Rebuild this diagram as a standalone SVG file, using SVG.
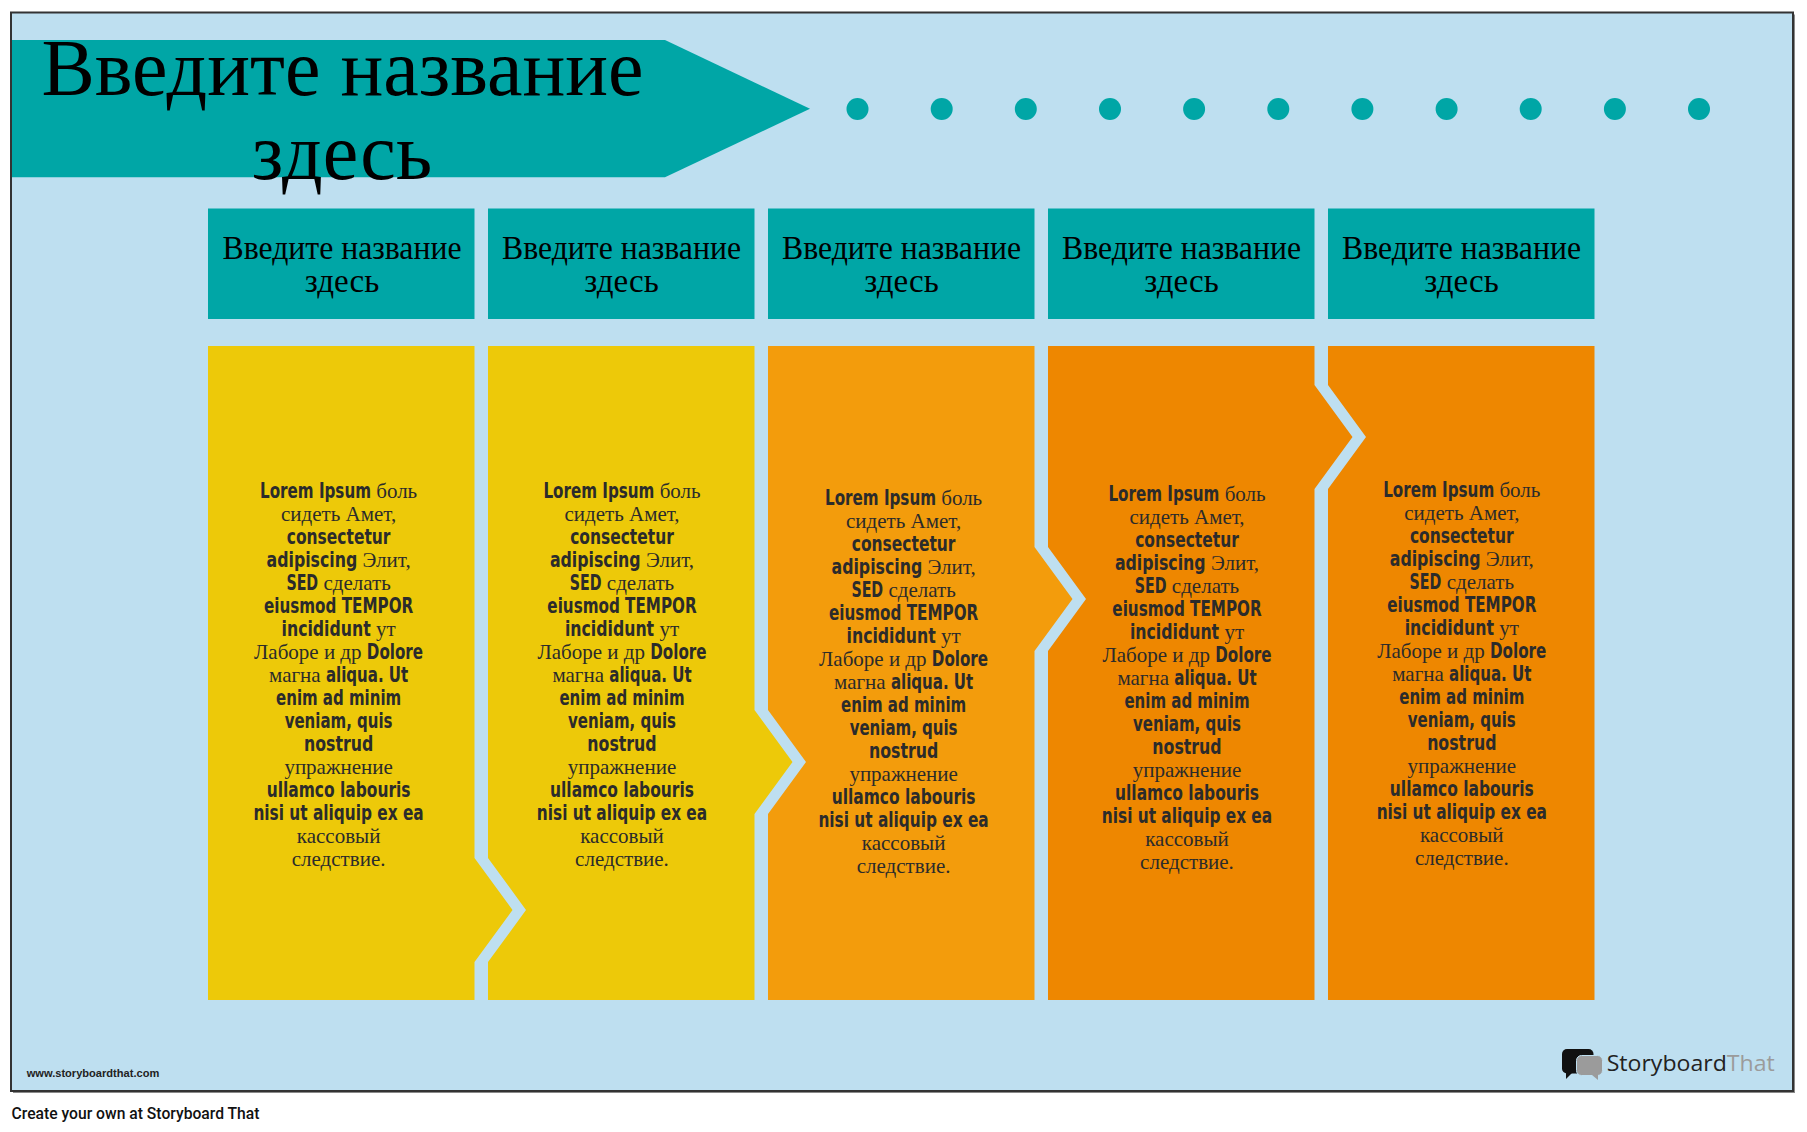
<svg xmlns="http://www.w3.org/2000/svg" width="1807" height="1132" viewBox="0 0 1807 1132">
<style>
.teal{fill:#00A6A6}
.title{font-family:"Liberation Serif","Times New Roman",serif;fill:#000;text-anchor:middle}
.hd{font-family:"Liberation Serif","Times New Roman",serif;font-size:33px;fill:#000;text-anchor:middle}
.b{font-family:"Liberation Serif","Times New Roman",serif;font-size:21px;fill:#2b2b2b;text-anchor:middle}
.s{font-family:"DejaVu Sans Condensed","Liberation Sans",sans-serif;font-weight:bold}
.dot{fill:#00A6A6}
</style>
<rect x="0" y="0" width="1807" height="1132" fill="#ffffff"/>
<rect x="13" y="14.5" width="1782" height="1078.5" fill="#8a8a8a"/>
<rect x="11" y="12.5" width="1782" height="1078.5" fill="#BEDFF0" stroke="#333" stroke-width="2"/>

<g id="banner">
<polygon class="teal" points="12,40 665,40 810,108.7 665,177.3 12,177.3"/>
<text class="title" font-size="80" x="342.5" y="95" textLength="602" lengthAdjust="spacingAndGlyphs">Введите название</text>
<text class="title" font-size="80" x="342" y="179">здесь</text>
</g>

<g id="dots">
<circle class="dot" cx="857.5" cy="109" r="11"/>
<circle class="dot" cx="941.7" cy="109" r="11"/>
<circle class="dot" cx="1025.8" cy="109" r="11"/>
<circle class="dot" cx="1110" cy="109" r="11"/>
<circle class="dot" cx="1194.1" cy="109" r="11"/>
<circle class="dot" cx="1278.3" cy="109" r="11"/>
<circle class="dot" cx="1362.4" cy="109" r="11"/>
<circle class="dot" cx="1446.6" cy="109" r="11"/>
<circle class="dot" cx="1530.7" cy="109" r="11"/>
<circle class="dot" cx="1614.9" cy="109" r="11"/>
<circle class="dot" cx="1699" cy="109" r="11"/>
</g>

<g id="header1"><rect class="teal" x="208" y="208.5" width="266.5" height="110.5"/><text class="hd" x="342" y="258.5" textLength="239" lengthAdjust="spacingAndGlyphs">Введите название</text><text class="hd" x="342" y="292">здесь</text></g>
<g id="header2"><rect class="teal" x="488" y="208.5" width="266.5" height="110.5"/><text class="hd" x="621.5" y="258.5" textLength="239" lengthAdjust="spacingAndGlyphs">Введите название</text><text class="hd" x="621.5" y="292">здесь</text></g>
<g id="header3"><rect class="teal" x="768" y="208.5" width="266.5" height="110.5"/><text class="hd" x="901.5" y="258.5" textLength="239" lengthAdjust="spacingAndGlyphs">Введите название</text><text class="hd" x="901.5" y="292">здесь</text></g>
<g id="header4"><rect class="teal" x="1048" y="208.5" width="266.5" height="110.5"/><text class="hd" x="1181.5" y="258.5" textLength="239" lengthAdjust="spacingAndGlyphs">Введите название</text><text class="hd" x="1181.5" y="292">здесь</text></g>
<g id="header5"><rect class="teal" x="1328" y="208.5" width="266.5" height="110.5"/><text class="hd" x="1461.5" y="258.5" textLength="239" lengthAdjust="spacingAndGlyphs">Введите название</text><text class="hd" x="1461.5" y="292">здесь</text></g>

<g id="connectors"></g>

<g id="box1">
<path fill="#EDC909" d="M208,346 H474.5 V858 L512.5,910 L474.5,962 V1000 H208 Z"/>
<text class="b" x="338.6" y="497.5"><tspan class="s" textLength="111" lengthAdjust="spacingAndGlyphs">Lorem Ipsum</tspan> боль</text>
<text class="b" x="338.6" y="520.5">сидеть Амет,</text>
<text class="b" x="338.6" y="543.5"><tspan class="s" textLength="103.7" lengthAdjust="spacingAndGlyphs">consectetur</tspan></text>
<text class="b" x="338.6" y="566.5"><tspan class="s" textLength="90.7" lengthAdjust="spacingAndGlyphs">adipiscing</tspan> Элит,</text>
<text class="b" x="338.6" y="589.5"><tspan class="s" textLength="31.8" lengthAdjust="spacingAndGlyphs">SED</tspan> сделать</text>
<text class="b" x="338.6" y="612.5"><tspan class="s" textLength="149.3" lengthAdjust="spacingAndGlyphs">eiusmod TEMPOR</tspan></text>
<text class="b" x="338.6" y="635.5"><tspan class="s" textLength="89.2" lengthAdjust="spacingAndGlyphs">incididunt</tspan> ут</text>
<text class="b" x="338.6" y="658.5">Лаборе и др <tspan class="s" textLength="56.3" lengthAdjust="spacingAndGlyphs">Dolore</tspan></text>
<text class="b" x="338.6" y="681.5">магна <tspan class="s" textLength="82.3" lengthAdjust="spacingAndGlyphs">aliqua. Ut</tspan></text>
<text class="b" x="338.6" y="704.5"><tspan class="s" textLength="125.1" lengthAdjust="spacingAndGlyphs">enim ad minim</tspan></text>
<text class="b" x="338.6" y="727.5"><tspan class="s" textLength="107.9" lengthAdjust="spacingAndGlyphs">veniam, quis</tspan></text>
<text class="b" x="338.6" y="750.5"><tspan class="s" textLength="69.3" lengthAdjust="spacingAndGlyphs">nostrud</tspan></text>
<text class="b" x="338.6" y="773.5">упражнение</text>
<text class="b" x="338.6" y="796.5"><tspan class="s" textLength="143.9" lengthAdjust="spacingAndGlyphs">ullamco labouris</tspan></text>
<text class="b" x="338.6" y="819.5"><tspan class="s" textLength="170.3" lengthAdjust="spacingAndGlyphs">nisi ut aliquip ex ea</tspan></text>
<text class="b" x="338.6" y="842.5">кассовый</text>
<text class="b" x="338.6" y="865.5">следствие.</text>
</g>

<g id="box2">
<path fill="#EDC909" d="M488,346 H754.5 V710 L792.5,762 L754.5,814 V1000 H488 V962 L526,910 L488,858 Z"/>
<text class="b" x="622" y="497.5"><tspan class="s" textLength="111" lengthAdjust="spacingAndGlyphs">Lorem Ipsum</tspan> боль</text>
<text class="b" x="622" y="520.5">сидеть Амет,</text>
<text class="b" x="622" y="543.5"><tspan class="s" textLength="103.7" lengthAdjust="spacingAndGlyphs">consectetur</tspan></text>
<text class="b" x="622" y="566.5"><tspan class="s" textLength="90.7" lengthAdjust="spacingAndGlyphs">adipiscing</tspan> Элит,</text>
<text class="b" x="622" y="589.5"><tspan class="s" textLength="31.8" lengthAdjust="spacingAndGlyphs">SED</tspan> сделать</text>
<text class="b" x="622" y="612.5"><tspan class="s" textLength="149.3" lengthAdjust="spacingAndGlyphs">eiusmod TEMPOR</tspan></text>
<text class="b" x="622" y="635.5"><tspan class="s" textLength="89.2" lengthAdjust="spacingAndGlyphs">incididunt</tspan> ут</text>
<text class="b" x="622" y="658.5">Лаборе и др <tspan class="s" textLength="56.3" lengthAdjust="spacingAndGlyphs">Dolore</tspan></text>
<text class="b" x="622" y="681.5">магна <tspan class="s" textLength="82.3" lengthAdjust="spacingAndGlyphs">aliqua. Ut</tspan></text>
<text class="b" x="622" y="704.5"><tspan class="s" textLength="125.1" lengthAdjust="spacingAndGlyphs">enim ad minim</tspan></text>
<text class="b" x="622" y="727.5"><tspan class="s" textLength="107.9" lengthAdjust="spacingAndGlyphs">veniam, quis</tspan></text>
<text class="b" x="622" y="750.5"><tspan class="s" textLength="69.3" lengthAdjust="spacingAndGlyphs">nostrud</tspan></text>
<text class="b" x="622" y="773.5">упражнение</text>
<text class="b" x="622" y="796.5"><tspan class="s" textLength="143.9" lengthAdjust="spacingAndGlyphs">ullamco labouris</tspan></text>
<text class="b" x="622" y="819.5"><tspan class="s" textLength="170.3" lengthAdjust="spacingAndGlyphs">nisi ut aliquip ex ea</tspan></text>
<text class="b" x="622" y="842.5">кассовый</text>
<text class="b" x="622" y="865.5">следствие.</text>
</g>

<g id="box3">
<path fill="#F39C0C" d="M768,346 H1034.5 V547 L1072.5,599 L1034.5,651 V1000 H768 V814 L806,762 L768,710 Z"/>
<text class="b" x="903.6" y="504.5"><tspan class="s" textLength="111" lengthAdjust="spacingAndGlyphs">Lorem Ipsum</tspan> боль</text>
<text class="b" x="903.6" y="527.5">сидеть Амет,</text>
<text class="b" x="903.6" y="550.5"><tspan class="s" textLength="103.7" lengthAdjust="spacingAndGlyphs">consectetur</tspan></text>
<text class="b" x="903.6" y="573.5"><tspan class="s" textLength="90.7" lengthAdjust="spacingAndGlyphs">adipiscing</tspan> Элит,</text>
<text class="b" x="903.6" y="596.5"><tspan class="s" textLength="31.8" lengthAdjust="spacingAndGlyphs">SED</tspan> сделать</text>
<text class="b" x="903.6" y="619.5"><tspan class="s" textLength="149.3" lengthAdjust="spacingAndGlyphs">eiusmod TEMPOR</tspan></text>
<text class="b" x="903.6" y="642.5"><tspan class="s" textLength="89.2" lengthAdjust="spacingAndGlyphs">incididunt</tspan> ут</text>
<text class="b" x="903.6" y="665.5">Лаборе и др <tspan class="s" textLength="56.3" lengthAdjust="spacingAndGlyphs">Dolore</tspan></text>
<text class="b" x="903.6" y="688.5">магна <tspan class="s" textLength="82.3" lengthAdjust="spacingAndGlyphs">aliqua. Ut</tspan></text>
<text class="b" x="903.6" y="711.5"><tspan class="s" textLength="125.1" lengthAdjust="spacingAndGlyphs">enim ad minim</tspan></text>
<text class="b" x="903.6" y="734.5"><tspan class="s" textLength="107.9" lengthAdjust="spacingAndGlyphs">veniam, quis</tspan></text>
<text class="b" x="903.6" y="757.5"><tspan class="s" textLength="69.3" lengthAdjust="spacingAndGlyphs">nostrud</tspan></text>
<text class="b" x="903.6" y="780.5">упражнение</text>
<text class="b" x="903.6" y="803.5"><tspan class="s" textLength="143.9" lengthAdjust="spacingAndGlyphs">ullamco labouris</tspan></text>
<text class="b" x="903.6" y="826.5"><tspan class="s" textLength="170.3" lengthAdjust="spacingAndGlyphs">nisi ut aliquip ex ea</tspan></text>
<text class="b" x="903.6" y="849.5">кассовый</text>
<text class="b" x="903.6" y="872.5">следствие.</text>
</g>

<g id="box4">
<path fill="#EE8700" d="M1048,346 H1314.5 V385 L1352.5,437 L1314.5,489 V1000 H1048 V651 L1086,599 L1048,547 Z"/>
<text class="b" x="1187" y="500.5"><tspan class="s" textLength="111" lengthAdjust="spacingAndGlyphs">Lorem Ipsum</tspan> боль</text>
<text class="b" x="1187" y="523.5">сидеть Амет,</text>
<text class="b" x="1187" y="546.5"><tspan class="s" textLength="103.7" lengthAdjust="spacingAndGlyphs">consectetur</tspan></text>
<text class="b" x="1187" y="569.5"><tspan class="s" textLength="90.7" lengthAdjust="spacingAndGlyphs">adipiscing</tspan> Элит,</text>
<text class="b" x="1187" y="592.5"><tspan class="s" textLength="31.8" lengthAdjust="spacingAndGlyphs">SED</tspan> сделать</text>
<text class="b" x="1187" y="615.5"><tspan class="s" textLength="149.3" lengthAdjust="spacingAndGlyphs">eiusmod TEMPOR</tspan></text>
<text class="b" x="1187" y="638.5"><tspan class="s" textLength="89.2" lengthAdjust="spacingAndGlyphs">incididunt</tspan> ут</text>
<text class="b" x="1187" y="661.5">Лаборе и др <tspan class="s" textLength="56.3" lengthAdjust="spacingAndGlyphs">Dolore</tspan></text>
<text class="b" x="1187" y="684.5">магна <tspan class="s" textLength="82.3" lengthAdjust="spacingAndGlyphs">aliqua. Ut</tspan></text>
<text class="b" x="1187" y="707.5"><tspan class="s" textLength="125.1" lengthAdjust="spacingAndGlyphs">enim ad minim</tspan></text>
<text class="b" x="1187" y="730.5"><tspan class="s" textLength="107.9" lengthAdjust="spacingAndGlyphs">veniam, quis</tspan></text>
<text class="b" x="1187" y="753.5"><tspan class="s" textLength="69.3" lengthAdjust="spacingAndGlyphs">nostrud</tspan></text>
<text class="b" x="1187" y="776.5">упражнение</text>
<text class="b" x="1187" y="799.5"><tspan class="s" textLength="143.9" lengthAdjust="spacingAndGlyphs">ullamco labouris</tspan></text>
<text class="b" x="1187" y="822.5"><tspan class="s" textLength="170.3" lengthAdjust="spacingAndGlyphs">nisi ut aliquip ex ea</tspan></text>
<text class="b" x="1187" y="845.5">кассовый</text>
<text class="b" x="1187" y="868.5">следствие.</text>
</g>

<g id="box5">
<path fill="#EE8700" d="M1328,346 H1594.5 V1000 H1328 V489 L1366,437 L1328,385 Z"/>
<text class="b" x="1461.8" y="497"><tspan class="s" textLength="111" lengthAdjust="spacingAndGlyphs">Lorem Ipsum</tspan> боль</text>
<text class="b" x="1461.8" y="520">сидеть Амет,</text>
<text class="b" x="1461.8" y="543"><tspan class="s" textLength="103.7" lengthAdjust="spacingAndGlyphs">consectetur</tspan></text>
<text class="b" x="1461.8" y="566"><tspan class="s" textLength="90.7" lengthAdjust="spacingAndGlyphs">adipiscing</tspan> Элит,</text>
<text class="b" x="1461.8" y="589"><tspan class="s" textLength="31.8" lengthAdjust="spacingAndGlyphs">SED</tspan> сделать</text>
<text class="b" x="1461.8" y="612"><tspan class="s" textLength="149.3" lengthAdjust="spacingAndGlyphs">eiusmod TEMPOR</tspan></text>
<text class="b" x="1461.8" y="635"><tspan class="s" textLength="89.2" lengthAdjust="spacingAndGlyphs">incididunt</tspan> ут</text>
<text class="b" x="1461.8" y="658">Лаборе и др <tspan class="s" textLength="56.3" lengthAdjust="spacingAndGlyphs">Dolore</tspan></text>
<text class="b" x="1461.8" y="681">магна <tspan class="s" textLength="82.3" lengthAdjust="spacingAndGlyphs">aliqua. Ut</tspan></text>
<text class="b" x="1461.8" y="704"><tspan class="s" textLength="125.1" lengthAdjust="spacingAndGlyphs">enim ad minim</tspan></text>
<text class="b" x="1461.8" y="727"><tspan class="s" textLength="107.9" lengthAdjust="spacingAndGlyphs">veniam, quis</tspan></text>
<text class="b" x="1461.8" y="750"><tspan class="s" textLength="69.3" lengthAdjust="spacingAndGlyphs">nostrud</tspan></text>
<text class="b" x="1461.8" y="773">упражнение</text>
<text class="b" x="1461.8" y="796"><tspan class="s" textLength="143.9" lengthAdjust="spacingAndGlyphs">ullamco labouris</tspan></text>
<text class="b" x="1461.8" y="819"><tspan class="s" textLength="170.3" lengthAdjust="spacingAndGlyphs">nisi ut aliquip ex ea</tspan></text>
<text class="b" x="1461.8" y="842">кассовый</text>
<text class="b" x="1461.8" y="865">следствие.</text>
</g>

<g id="footer">
<text x="26.7" y="1076.5" font-family="Liberation Sans, Arial, sans-serif" font-weight="bold" font-size="11" fill="#222" textLength="132.6" lengthAdjust="spacingAndGlyphs">www.storyboardthat.com</text>
<text x="11.5" y="1118.5" font-family="Roboto, Liberation Sans, Arial, sans-serif" font-weight="500" font-size="16" fill="#111" textLength="248" lengthAdjust="spacingAndGlyphs">Create your own at Storyboard That</text>
</g>

<g id="logo">
<rect x="1562" y="1049" width="31.5" height="24.5" rx="5" fill="#111"/>
<polygon points="1566,1072 1566,1079 1573,1072" fill="#111"/>
<rect x="1576.5" y="1055.5" width="26" height="20" rx="5" fill="#9b9b9b" stroke="#BEDFF0" stroke-width="1"/>
<polygon points="1592,1075 1598,1080 1598,1075" fill="#9b9b9b"/>
<text x="1606.7" y="1071" font-family="Open Sans, Liberation Sans, sans-serif" font-size="21" textLength="168" lengthAdjust="spacingAndGlyphs"><tspan fill="#222">Storyboard</tspan><tspan fill="#9b9b9b">That</tspan></text>
</g>
</svg>
